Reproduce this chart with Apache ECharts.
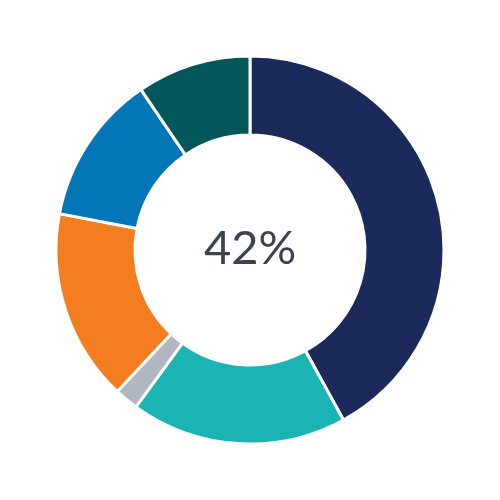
<!DOCTYPE html>
<html>
<head>
<meta charset="utf-8">
<script src="https://cdn.jsdelivr.net/npm/echarts@6/dist/echarts.min.js"></script>
<style>
  html, body { margin: 0; padding: 0; background: #fff; }
  #main { width: 500px; height: 500px; }
</style>
</head>
<body>
<div id="main"></div>
<script>
// segment values (percent), clockwise from the top
var names = ['A', 'B', 'C', 'D', 'E', 'F'];
var values = [42, 18, 2, 16, 12.5, 9.5];
var colors = ['#1b2a5a', '#1ab4b4', '#b1b7c2', '#f47d20', '#0276b6', '#03575a'];
var centerLabel = '42%';

var data = names.map(function (n, i) {
	return { name: n, value: values[i], itemStyle: { color: colors[i] } };
});

var option = {
	animation: false,
	title: {
		text: centerLabel,
		left: 'center',
		top: 220,
		textStyle: {
			fontFamily: 'Lato',
			fontWeight: 400,
			fontSize: 47,
			color: '#3d434d'
		}
	},
	series: [{
		type: 'pie',
		center: [250, 250],
		radius: [115, 194],
		startAngle: 90,
		clockwise: true,
		label: { show: false },
		labelLine: { show: false },
		itemStyle: { borderColor: '#fff', borderWidth: 3 },
		emphasis: { disabled: true },
		data: data
	}]
};
var myChart = echarts.init(document.getElementById('main'));
myChart.setOption(option);
</script>
</body>
</html>
